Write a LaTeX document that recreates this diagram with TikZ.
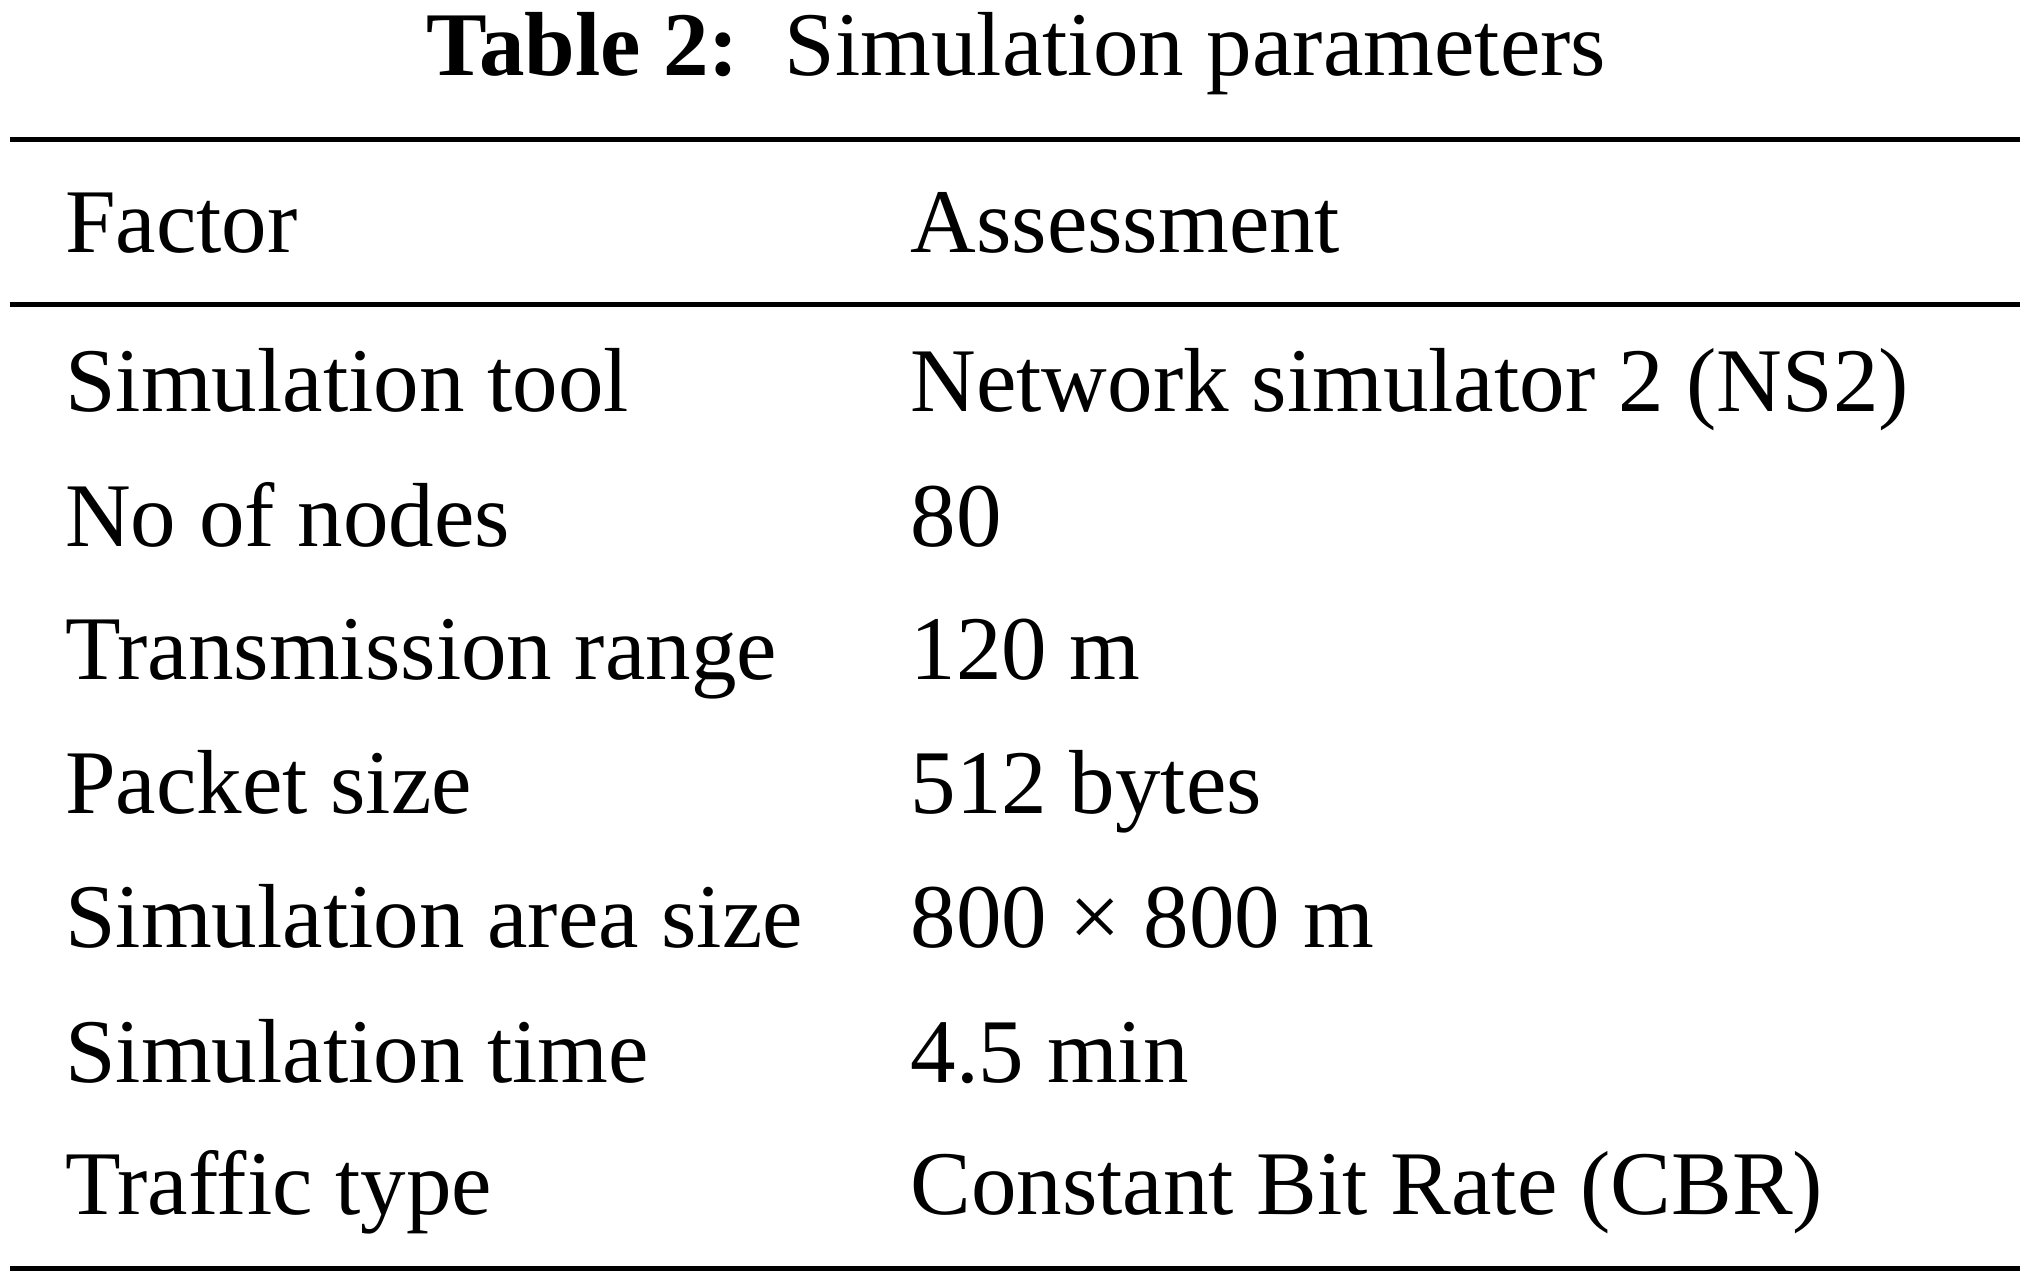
\documentclass[tikz,border=0pt]{standalone}
\usepackage{fontspec}
\setmainfont{Liberation Serif}
\begin{document}
\begin{tikzpicture}[x=0.02cm,y=-0.02cm,
  txt/.style={anchor=base west,inner sep=0,font=\fontsize{40}{48}\selectfont},
  rule/.style={line width=2.2pt}]
\useasboundingbox (0,0) rectangle (1568,990);
\node[anchor=base,inner sep=0,font=\fontsize{40}{48}\selectfont] (title) at (785,58) {\textbf{Table 2:}\ \ Simulation parameters};
\coordinate (l1a) at (8,108); \coordinate (l1b) at (1560,108);
\coordinate (l2a) at (8,235); \coordinate (l2b) at (1560,235);
\coordinate (l3a) at (8,980); \coordinate (l3b) at (1560,980);
\draw[rule] (l1a) -- (l1b);
\draw[rule] (l2a) -- (l2b);
\draw[rule] (l3a) -- (l3b);
\node[txt] (h1) at (50,195) {Factor};
\node[txt] (h2) at (703,195) {Assessment};
\node[txt] (a1) at (50,318) {Simulation tool};
\node[txt] (b1) at (703,318) {Network simulator 2 (NS2)};
\node[txt] (a2) at (50,422) {No of nodes};
\node[txt] (b2) at (703,422) {80};
\node[txt] (a3) at (50,525) {Transmission range};
\node[txt] (b3) at (703,525) {120 m};
\node[txt] (a4) at (50,628) {Packet size};
\node[txt] (b4) at (703,628) {512 bytes};
\node[txt] (a5) at (50,732) {Simulation area size};
\node[txt] (b5) at (703,732) {800 × 800 m};
\node[txt] (a6) at (50,836) {Simulation time};
\node[txt] (b6) at (703,836) {4.5 min};
\node[txt] (a7) at (50,938) {Traffic type};
\node[txt] (b7) at (703,938) {Constant Bit Rate (CBR)};
\end{tikzpicture}
\end{document}
